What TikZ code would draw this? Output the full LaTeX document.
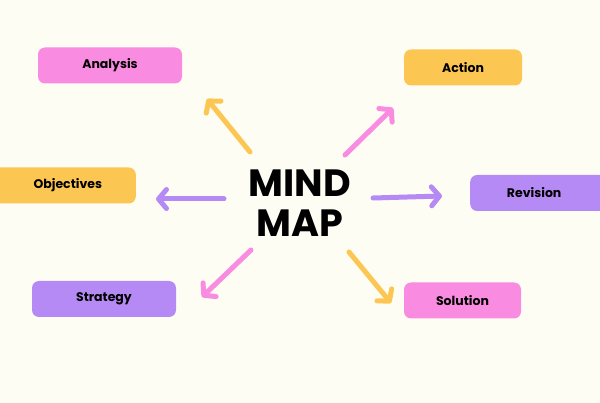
\documentclass[tikz,border=0pt]{standalone}
\usepackage{fontspec}
\setmainfont{Poppins}
\usetikzlibrary{arrows.meta}
\definecolor{bg}{HTML}{FEFDF4}
\definecolor{pk}{HTML}{F98BE0}
\definecolor{yl}{HTML}{FCC653}
\definecolor{pu}{HTML}{B68AF5}
\begin{document}
\begin{tikzpicture}[x=1pt,y=-1pt,
 box/.style={rounded corners=7pt,minimum height=36pt,inner sep=0pt,font=\bfseries\fontsize{12.5}{13}\selectfont},
 arr/.style={line width=5pt,line cap=round,-{Straight Barb[length=8pt,width=19pt,round]}}]
\fill[bg] (0,0) rectangle (600,403);
\useasboundingbox (0,0) rectangle (600,403);
\node[box,fill=pk,minimum width=144pt] (an) at (110,65.5) {Analysis};
\node[box,fill=yl,minimum width=118pt] (ac) at (463,67.5) {Action};
\node[box,fill=yl,minimum width=150pt,anchor=east] (ob) at (136,185.5) {\hspace*{14pt}Objectives};
\node[box,fill=pu,minimum width=140pt,anchor=west] (re) at (470,193) {Revision\hspace*{12pt}};
\node[box,fill=pu,minimum width=144pt] (st) at (104,299) {Strategy};
\node[box,fill=pk,minimum width=117pt] (so) at (462.5,300.5) {Solution};
\node[font=\bfseries\fontsize{38}{40}\selectfont,align=center] (c) at (300,203) {MIND\\MAP};
\coordinate (a1) at (250,152); \coordinate (a2) at (207,99);
\coordinate (b1) at (345,155); \coordinate (b2) at (393,108);
\coordinate (c1) at (224,199); \coordinate (c2) at (156,199);
\coordinate (d1) at (373,198); \coordinate (d2) at (442,196);
\coordinate (e1) at (251,250); \coordinate (e2) at (202,297);
\coordinate (f1) at (349,252); \coordinate (f2) at (391,303);
\draw[arr,yl] (a1) -- (a2);
\draw[arr,pk] (b1) -- (b2);
\draw[arr,pu] (c1) -- (c2);
\draw[arr,pu] (d1) -- (d2);
\draw[arr,pk] (e1) -- (e2);
\draw[arr,yl] (f1) -- (f2);
\end{tikzpicture}
\end{document}
